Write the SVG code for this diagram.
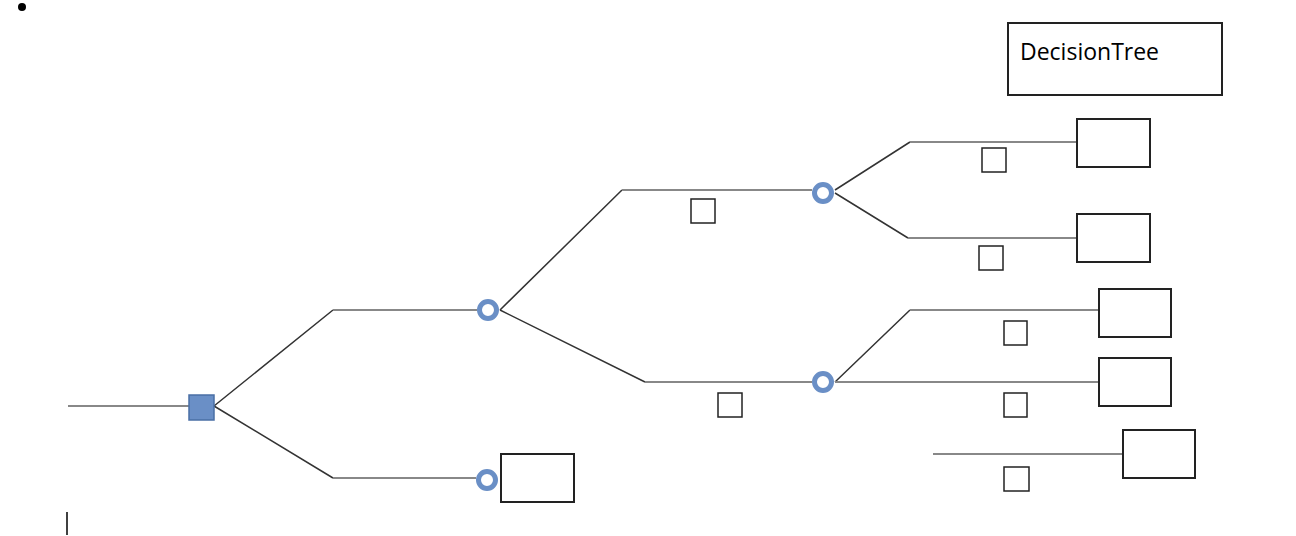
<svg xmlns="http://www.w3.org/2000/svg" width="1296" height="536" viewBox="0 0 1296 536">
<style>
.h{stroke:#888;stroke-width:2;fill:none}
.d{stroke:#333;stroke-width:1.5;fill:none}
.b{fill:#fff;stroke:#222;stroke-width:2}
.s{fill:#fff;stroke:#222;stroke-width:1.5}
.c{fill:#fff;stroke:#6a8fc6;stroke-width:5}
.cs{fill:none;stroke:#4a6fa5;stroke-width:1}
</style>
<rect width="1296" height="536" fill="#fff"/>
<circle cx="22" cy="7" r="4" fill="#000"/>
<line x1="67" y1="512" x2="67" y2="535" stroke="#000" stroke-width="1.5"/>
<g id="connectors">
<path class="h" d="M68 406H189"/>
<path class="d" d="M214 406L333 310M214 406L333 478"/>
<path class="h" d="M333 310H477M333 478H476"/>
<path class="d" d="M500 310L622 190M500 310L645 382"/>
<path class="h" d="M622 190H812M645 382H812"/>
<path class="d" d="M835 190L910 142M835 193L908 238M835 382L910 310"/>
<path class="h" d="M910 142H1077M908 238H1077M910 310H1099M835 382H1099M933 454H1123"/>
</g>
<g id="decision"><rect x="189" y="395" width="25" height="25" fill="#6a8fc6" stroke="#4a6fa5" stroke-width="1.5"/></g>
<g id="chance1"><circle class="c" cx="488" cy="310" r="8.5"/></g>
<g id="chance2"><circle class="c" cx="487" cy="480" r="8.5"/></g>
<g id="chance3"><circle class="c" cx="823" cy="193" r="8.5"/></g>
<g id="chance4"><circle class="c" cx="823" cy="382" r="8.5"/></g>
<g id="end1"><rect class="b" x="501" y="454" width="73" height="48"/></g>
<g id="end2"><rect class="b" x="1077" y="119" width="73" height="48"/></g>
<g id="end3"><rect class="b" x="1077" y="214" width="73" height="48"/></g>
<g id="end4"><rect class="b" x="1099" y="289" width="72" height="48"/></g>
<g id="end5"><rect class="b" x="1099" y="358" width="72" height="48"/></g>
<g id="end6"><rect class="b" x="1123" y="430" width="72" height="48"/></g>
<g id="labels">
<rect class="s" x="691" y="199" width="24" height="24"/>
<rect class="s" x="718" y="393" width="24" height="24"/>
<rect class="s" x="982" y="148" width="24" height="24"/>
<rect class="s" x="979" y="246" width="24" height="24"/>
<rect class="s" x="1004" y="321" width="23" height="24"/>
<rect class="s" x="1004" y="393" width="23" height="24"/>
<rect class="s" x="1004" y="467" width="25" height="24"/>
</g>
<g id="title"><rect class="b" x="1008" y="23" width="214" height="72"/>
<text x="1020" y="60" font-family="Open Sans, Liberation Sans, sans-serif" font-size="23" fill="#000">DecisionTree</text></g>
</svg>
